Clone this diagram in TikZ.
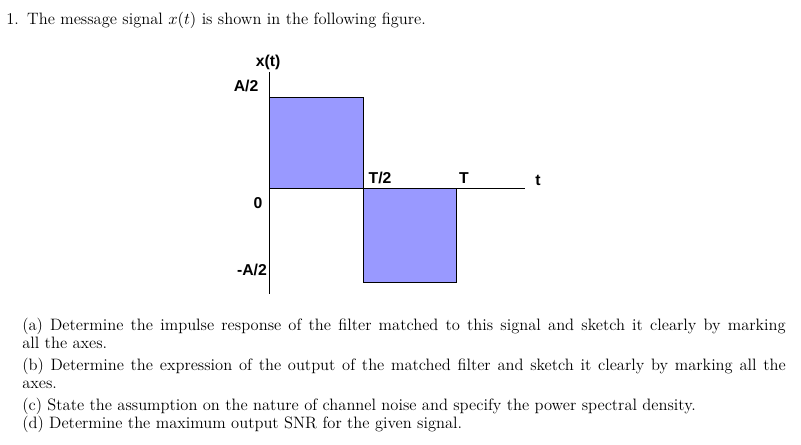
\documentclass[tikz,border=0pt]{standalone}
\usepackage{fontspec}
\newfontfamily\arial{Liberation Sans}
\begin{document}
\begin{tikzpicture}[x=0.6667pt,y=-0.6667pt,
  lab/.style={font=\arial\bfseries\fontsize{10.5}{12}\selectfont, inner sep=0pt},
  para/.style={anchor=north west, inner sep=0pt, text width=509pt, align=justify, font=\fontsize{11}{12}\selectfont}]
\useasboundingbox (0,0) rectangle (801,445);
\node[anchor=west, inner sep=0pt, font=\fontsize{11}{12}\selectfont] (title) at (6,20) {1.\enspace The message signal $x(t)$ is shown in the following figure.};
\coordinate (o) at (269,188);
\coordinate (ytop) at (269,72);
\coordinate (ybot) at (269,294);
\coordinate (xend) at (525,188);
\fill[blue!40!white] (269,97) rectangle (363,188);
\fill[blue!40!white] (363,188) rectangle (456,282);
\draw[line width=0.6pt] (269,97) -- (363,97) -- (363,282) -- (456,282) -- (456,188);
\draw[line width=0.6pt] (ytop) -- (ybot);
\draw[line width=0.6pt] (o) -- (xend);
\node[lab] (xt) at (268,62) {x(t)};
\node[lab] (a2) at (246,86) {A/2};
\node[lab] (z) at (258,203) {0};
\node[lab] (ma2) at (252,270) {-A/2};
\node[lab] (t2) at (380,178) {T/2};
\node[lab] (tt) at (464,178) {T};
\node[lab] (t) at (538,180) {t};
\node[para] (qs) at (22,318) {(a) Determine the impulse response of the filter matched to this signal and sketch it clearly by marking\linebreak all the axes.\\[2.5pt]
(b) Determine the expression of the output of the matched filter and sketch it clearly by marking all the\linebreak axes.\\[2.5pt]
(c) State the assumption on the nature of channel noise and specify the power spectral density.\\
(d) Determine the maximum output SNR for the given signal.};
\end{tikzpicture}
\end{document}
